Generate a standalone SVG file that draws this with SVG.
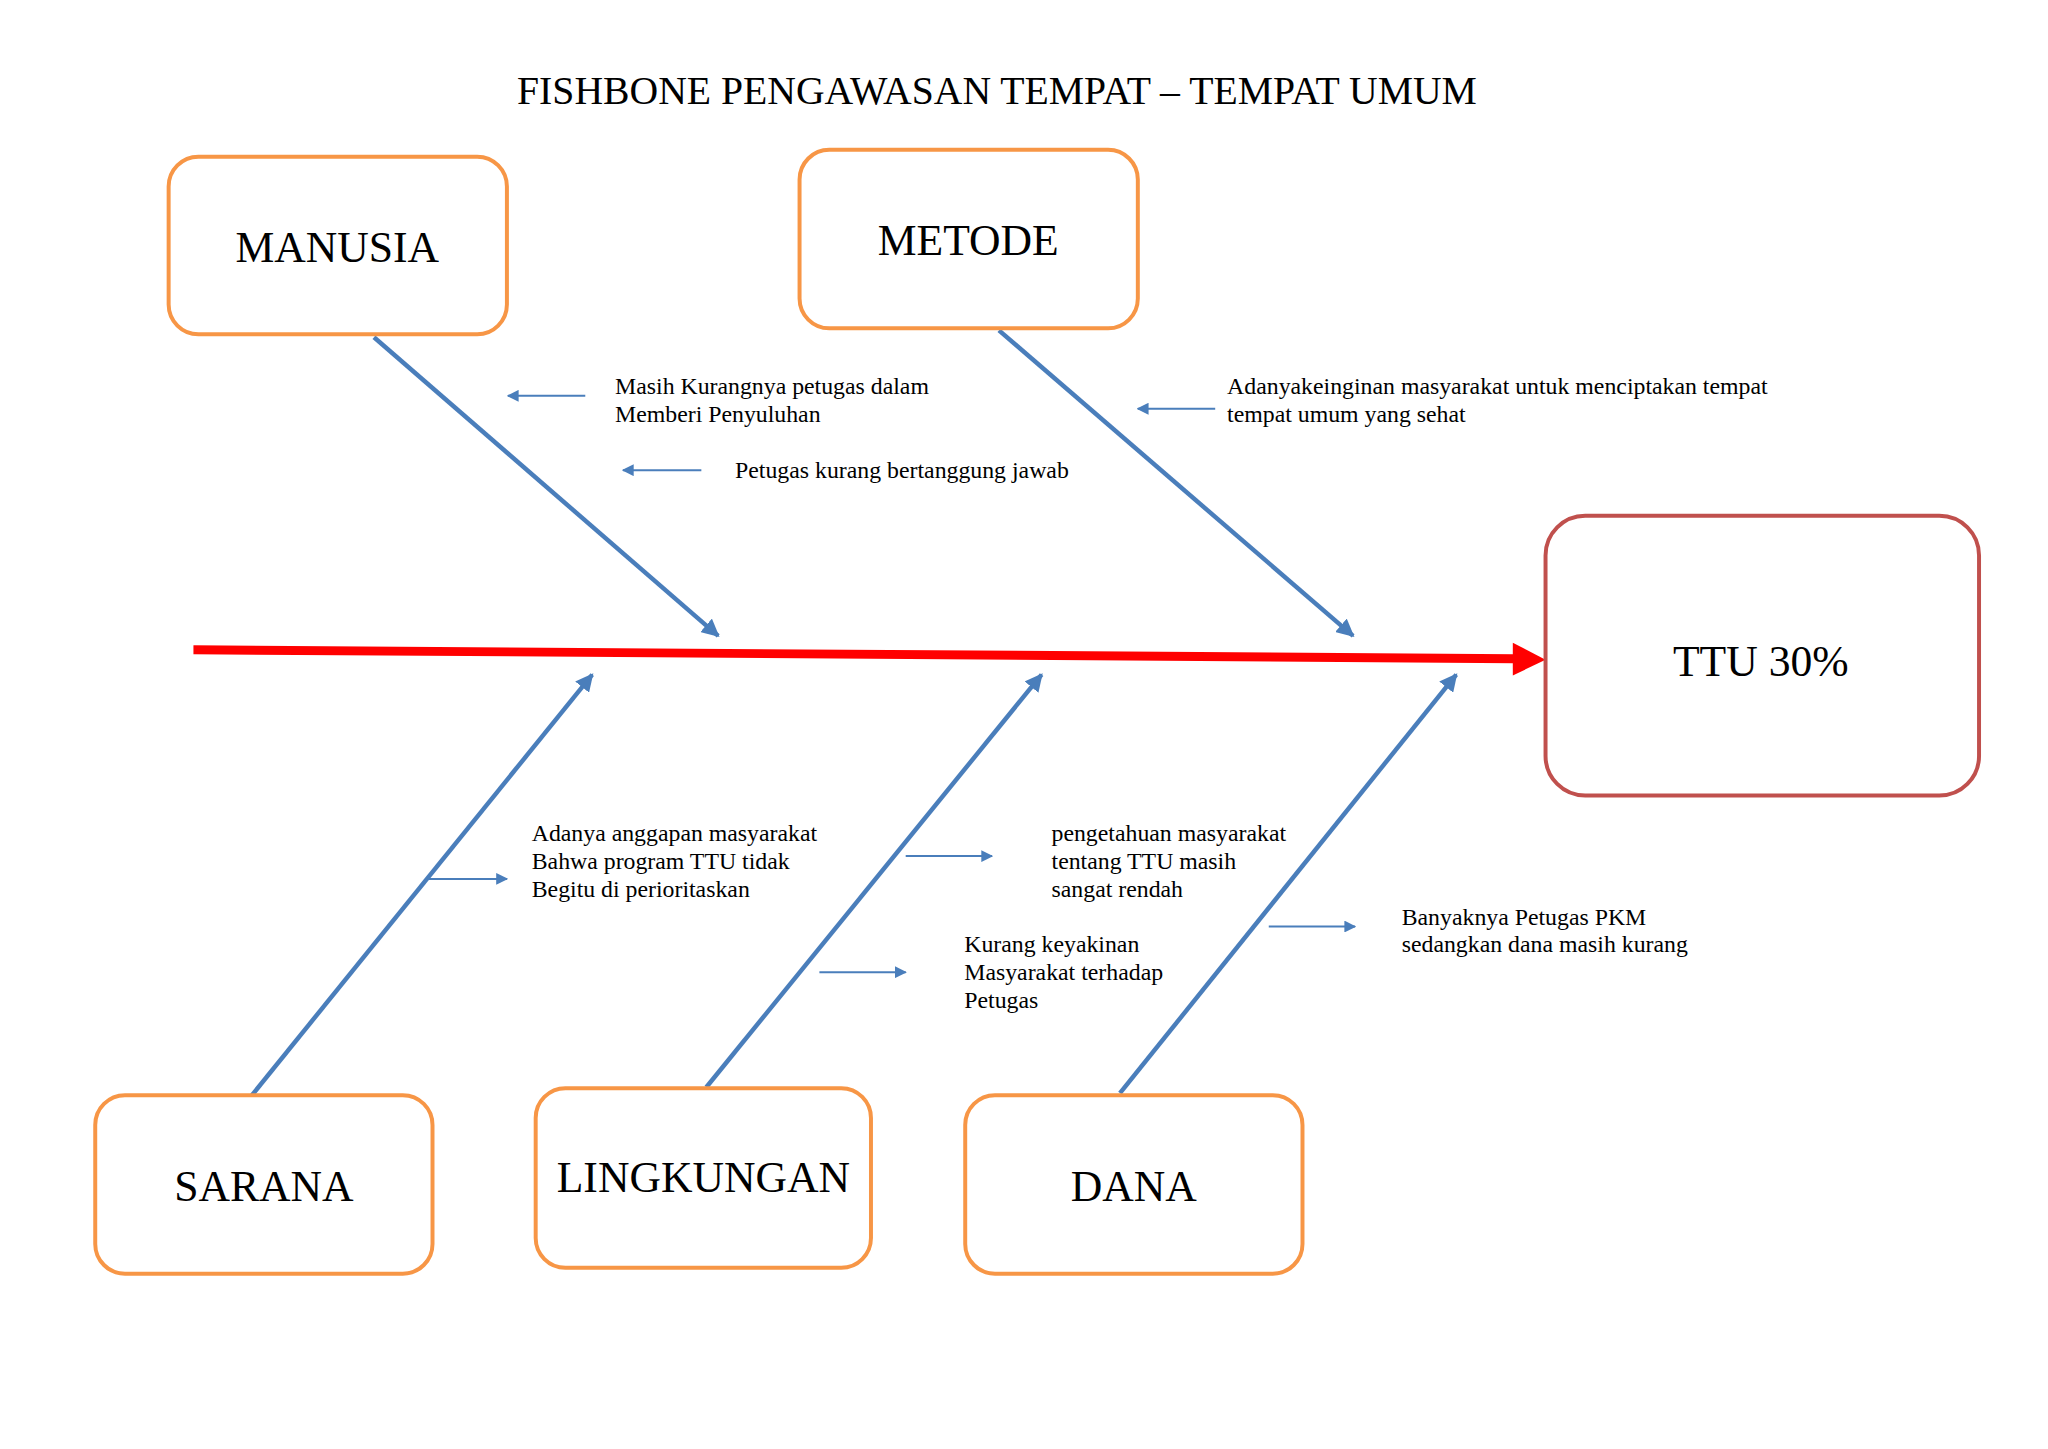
<svg xmlns="http://www.w3.org/2000/svg" width="2048" height="1449" viewBox="0 0 2048 1449">
<defs>
<marker id="ah" viewBox="0 0 10 10" refX="9" refY="5" markerWidth="4" markerHeight="4" orient="auto"><path d="M0,0 L10,5 L0,10 z" fill="#4A7EBB"/></marker>
<marker id="ahs" viewBox="0 0 10 10" refX="9" refY="5" markerWidth="6" markerHeight="6" orient="auto"><path d="M0,0 L10,5 L0,10 z" fill="#4A7EBB"/></marker>
<style>
.box{fill:#fff;stroke:#F79646;stroke-width:4}
.lbl{font-family:"Liberation Serif",serif;font-size:44px;fill:#000;text-anchor:middle}
.t{font-family:"Liberation Serif",serif;font-size:24px;fill:#000}
.bone{stroke:#4A7EBB;stroke-width:4.5;fill:none;marker-end:url(#ah)}
.sm{stroke:#4A7EBB;stroke-width:2;fill:none;marker-end:url(#ahs)}
</style>
</defs>
<rect width="2048" height="1449" fill="#fff"/>
<g transform="scale(0.992)">
<text x="1005" y="105" font-family="Liberation Serif,serif" font-size="40" text-anchor="middle">FISHBONE PENGAWASAN TEMPAT – TEMPAT UMUM</text>
<g id="connectors">
<line x1="195" y1="655" x2="1527" y2="664" stroke="#FF0000" stroke-width="9"/>
<path d="M1525,648 L1558,665 L1525,681 z" fill="#FF0000"/>
<line class="bone" x1="377" y1="340" x2="724" y2="641"/>
<line class="bone" x1="1007" y1="333" x2="1364" y2="641"/>
<line class="bone" x1="254" y1="1104" x2="597" y2="680"/>
<line class="bone" x1="712" y1="1096" x2="1050" y2="680"/>
<line class="bone" x1="1129" y1="1102" x2="1468" y2="680"/>
<line class="sm" x1="590" y1="399" x2="512" y2="399"/>
<line class="sm" x1="707" y1="474" x2="628" y2="474"/>
<line class="sm" x1="1225" y1="412" x2="1147" y2="412"/>
<line class="sm" x1="431" y1="886" x2="511" y2="886"/>
<line class="sm" x1="913" y1="863" x2="1000" y2="863"/>
<line class="sm" x1="826" y1="980" x2="913" y2="980"/>
<line class="sm" x1="1279" y1="934" x2="1366" y2="934"/>
</g>
<g id="manusia"><rect class="box" x="170" y="158" width="341" height="179" rx="30"/><text class="lbl" x="340" y="264">MANUSIA</text></g>
<g id="metode"><rect class="box" x="806" y="151" width="341" height="180" rx="30"/><text class="lbl" x="976" y="257">METODE</text></g>
<g id="ttu"><rect x="1558" y="520" width="437" height="282" rx="40" fill="#fff" stroke="#C0504D" stroke-width="4"/><text class="lbl" x="1775" y="681" font-size="50">TTU 30%</text></g>
<g id="sarana"><rect class="box" x="96" y="1104" width="340" height="180" rx="30"/><text class="lbl" x="266" y="1211">SARANA</text></g>
<g id="lingkungan"><rect class="box" x="540" y="1097" width="338" height="181" rx="30"/><text class="lbl" x="709" y="1202" font-size="36">LINGKUNGAN</text></g>
<g id="dana"><rect class="box" x="973" y="1104" width="340" height="180" rx="30"/><text class="lbl" x="1143" y="1211">DANA</text></g>
<g id="notes">
<text class="t" x="620" y="397">Masih Kurangnya petugas dalam</text>
<text class="t" x="620" y="425">Memberi Penyuluhan</text>
<text class="t" x="741" y="482">Petugas kurang bertanggung jawab</text>
<text class="t" x="1237" y="397">Adanyakeinginan masyarakat untuk menciptakan tempat</text>
<text class="t" x="1237" y="425">tempat umum yang sehat</text>
<text class="t" x="536" y="848">Adanya anggapan masyarakat</text>
<text class="t" x="536" y="876">Bahwa program TTU tidak</text>
<text class="t" x="536" y="904">Begitu di perioritaskan</text>
<text class="t" x="1060" y="848">pengetahuan masyarakat</text>
<text class="t" x="1060" y="876">tentang TTU masih</text>
<text class="t" x="1060" y="904">sangat rendah</text>
<text class="t" x="972" y="960">Kurang keyakinan</text>
<text class="t" x="972" y="988">Masyarakat terhadap</text>
<text class="t" x="972" y="1016">Petugas</text>
<text class="t" x="1413" y="932">Banyaknya Petugas PKM</text>
<text class="t" x="1413" y="960">sedangkan dana masih kurang</text>
</g>
</g>
</svg>
